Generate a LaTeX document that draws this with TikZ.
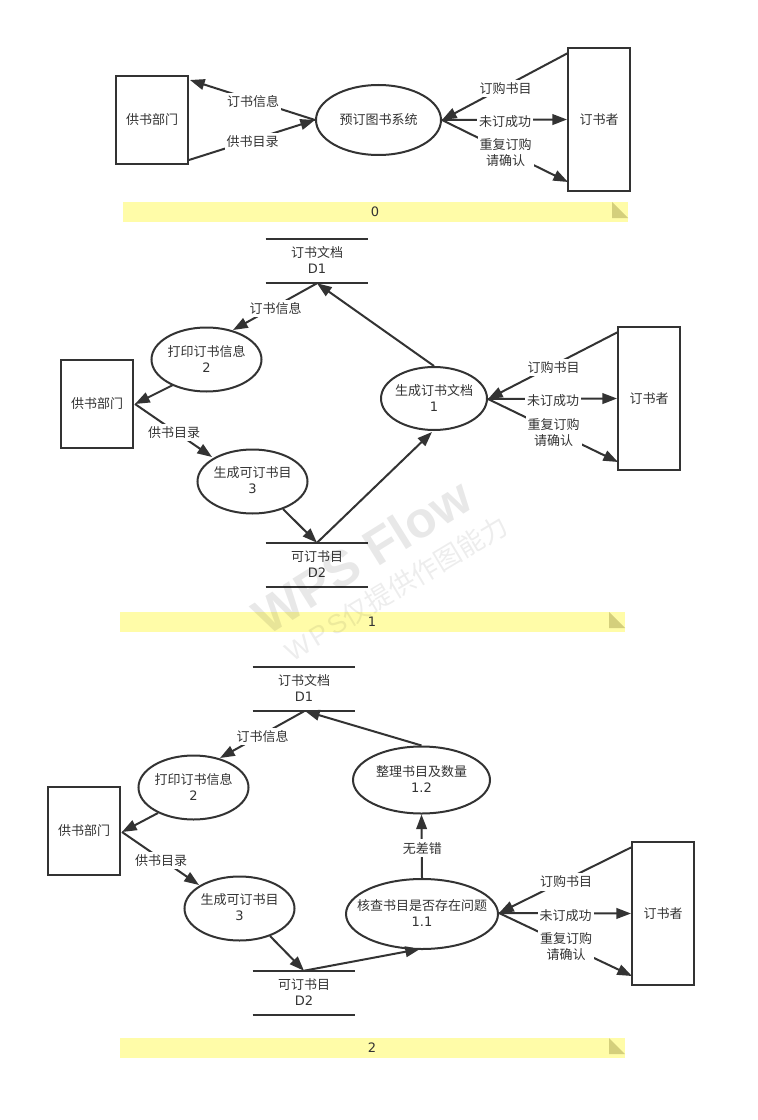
\documentclass[tikz,border=0pt]{standalone}
\usepackage{fontspec}
\setmainfont{Noto Sans CJK SC}
\newfontfamily\lat{DejaVu Sans}
\newfontfamily\wmfont{Liberation Sans}
\newfontfamily\wmspaced[LetterSpace=12]{Liberation Sans}
\usetikzlibrary{shapes.geometric,arrows.meta}
\definecolor{ink}{HTML}{333333}
\definecolor{band}{HTML}{FFFCA8}
\definecolor{foldc}{HTML}{D4CF7C}
\newcommand{\dn}{\rule[-1.5pt]{0pt}{0pt}}
\tikzset{
  txt/.style={text=ink,font=\fontsize{9.75}{12}\selectfont,align=center,inner sep=0pt},
  entity/.style={txt,draw=ink,line width=1.5pt,fill=white,minimum width=54pt,minimum height=66pt},
  tallent/.style={txt,draw=ink,line width=1.5pt,fill=white,minimum width=46.5pt,minimum height=107.25pt},
  proc/.style={txt,ellipse,draw=ink,line width=1.5pt,fill=white,inner sep=-14pt},
  store/.style={txt,minimum width=76.5pt,minimum height=33pt},
  storeline/.style={draw=ink,line width=1.5pt},
  flow/.style={draw=ink,line width=1.5pt,-{Triangle[length=11pt,width=8pt]}},
  lab/.style={txt,fill=white,inner xsep=1.5pt,inner ysep=2pt,midway,yshift=-1.4pt,xshift=0.4pt},
  bandtxt/.style={txt},
}
\newcommand{\banner}[4]{% x-left, x-right, y-top, name/text
  \fill[band] (#1,#3) rectangle (#2,#3+20);
  \fill[foldc] (#2-16,#3) -- (#2,#3+16) -- (#2-16,#3+16) -- cycle;
  \node[bandtxt] (band#4) at ({(#1+#2)/2-0.5},#3+9.5) {\lat #4};
}
\begin{document}
\begin{tikzpicture}[x=0.75pt,y=-0.75pt]
\useasboundingbox (0,0) rectangle (757,1120);
\fill[white] (0,0) rectangle (757,1120);

% ---------- panel 0
\node[entity] (s0) at (152,120) {供书部门};
\node[proc,minimum width=93.75pt,minimum height=52.5pt] (p0) at (378.5,120) {预订图书系统};
\node[tallent] (u0) at (599,119.5) {订书者};
\coordinate (s0a) at (190,80);
\coordinate (s0b) at (189,160);
\coordinate (u0a) at (568,53);
\coordinate (u0c) at (568,182);
\coordinate (p0e) at (442,120);
\draw[flow] (p0.west) -- node[lab]{订书信息} (s0a);
\draw[flow] (s0b) -- node[lab]{供书目录} (p0.west);
\draw[flow] (u0a) -- node[lab]{订购书目} (p0e);
\draw[flow] (p0e) -- node[lab]{未订成功} (u0.west);
\draw[flow] (p0e) -- node[lab]{重复订购\\请确认} (u0c);
\banner{123}{628}{202}{0}

% ---------- panel 1
\node[store] (d11) at (317,261) {订书文档\\{\lat D1}\dn};
\draw[storeline] (d11.north west) -- (d11.north east) (d11.south west) -- (d11.south east);
\node[store] (d12) at (317,565) {可订书目\\{\lat D2}\dn};
\draw[storeline] (d12.north west) -- (d12.north east) (d12.south west) -- (d12.south east);
\node[entity] (s1) at (97,404) {供书部门};
\node[proc,minimum width=82.5pt,minimum height=48pt] (a1) at (206.5,359.5) {打印订书信息\\{\lat 2}\dn};
\node[proc,minimum width=82.5pt,minimum height=48pt] (b1) at (252.5,481.5) {生成可订书目\\{\lat 3}\dn};
\node[proc,minimum width=79.5pt,minimum height=47.25pt] (c1) at (434,398.5) {生成订书文档\\{\lat 1}\dn};
\node[tallent] (u1) at (649,398.5) {订书者};
\coordinate (a1n) at (233,330);
\coordinate (a1s) at (173,385);
\coordinate (b1n) at (212,457);
\coordinate (b1s) at (283,509);
\coordinate (c1s) at (432,432);
\coordinate (c1e) at (488,399);
\coordinate (s1e) at (135,404);
\coordinate (u1a) at (618,332);
\coordinate (u1c) at (618,462);
\draw[flow] (d11.south) -- node[lab]{订书信息} (a1n);
\draw[flow] (a1s) -- (s1e);
\draw[flow] (s1e) -- node[lab]{供书目录} (b1n);
\draw[flow] (b1s) -- (d12.north);
\draw[flow] (d12.north) -- (c1s);
\draw[flow] (c1.north) -- (d11.south);
\draw[flow] (u1a) -- node[lab]{订购书目} (c1e);
\draw[flow] (c1e) -- node[lab]{未订成功} (u1.west);
\draw[flow] (c1e) -- node[lab]{重复订购\\请确认} (u1c);
\banner{120}{625}{612}{1}

% ---------- panel 2
\node[store] (d21) at (304,689) {订书文档\\{\lat D1}\dn};
\draw[storeline] (d21.north west) -- (d21.north east) (d21.south west) -- (d21.south east);
\node[store] (d22) at (304,993) {可订书目\\{\lat D2}\dn};
\draw[storeline] (d22.north west) -- (d22.north east) (d22.south west) -- (d22.south east);
\node[entity] (s2) at (84,831) {供书部门};
\node[proc,minimum width=82.5pt,minimum height=48pt] (a2) at (193.5,787.5) {打印订书信息\\{\lat 2}\dn};
\node[proc,minimum width=82.5pt,minimum height=48pt] (b2) at (239.5,908.5) {生成可订书目\\{\lat 3}\dn};
\node[proc,minimum width=102.75pt,minimum height=50.25pt] (e2) at (421.5,780) {整理书目及数量\\{\lat 1.2}\dn};
\node[proc,minimum width=114pt,minimum height=52.5pt] (f2) at (422,914) {核查书目是否存在问题\\{\lat 1.1}\dn};
\node[tallent] (u2) at (663,913.5) {订书者};
\coordinate (a2n) at (220,758);
\coordinate (a2s) at (158,813);
\coordinate (b2n) at (199,885);
\coordinate (b2s) at (270,936);
\coordinate (d21t) at (305,711);
\coordinate (f2s) at (420,949);
\coordinate (f2e) at (499,913);
\coordinate (s2e) at (122,832);
\coordinate (u2a) at (632,847);
\coordinate (u2c) at (632,976);
\draw[flow] (d21.south) -- node[lab]{订书信息} (a2n);
\draw[flow] (a2s) -- (s2e);
\draw[flow] (s2e) -- node[lab]{供书目录} (b2n);
\draw[flow] (b2s) -- (d22.north);
\draw[flow] (d22.north) -- (f2s);
\draw[flow] (f2.north) -- node[lab]{无差错} (e2.south);
\draw[flow] (e2.north) -- (d21t);
\draw[flow] (u2a) -- node[lab]{订购书目} (f2e);
\draw[flow] (f2e) -- node[lab]{未订成功} (u2.west);
\draw[flow] (f2e) -- node[lab]{重复订购\\请确认} (u2c);
\banner{120}{625}{1038}{2}

% ---------- watermark
\node[rotate=32,text=black,text opacity=0.09,font=\wmfont\bfseries\fontsize{38}{42}\selectfont,inner sep=0pt] (wm1) at (362,556) {WPS Flow};
\node[rotate=31,text=black,text opacity=0.07,font=\fontsize{20}{24}\selectfont,inner sep=0pt] (wm2) at (396,588) {{\wmspaced WPS}仅提供作图能力};
\end{tikzpicture}
\end{document}
